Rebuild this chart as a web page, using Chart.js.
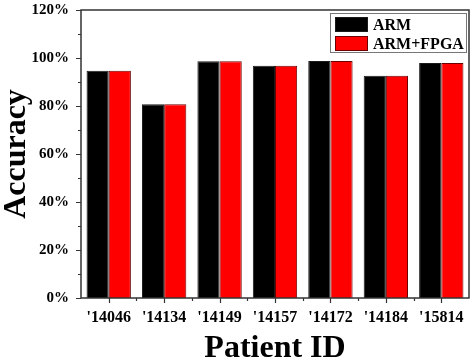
<!DOCTYPE html>
<html>
<head>
<meta charset="utf-8">
<script src="https://cdn.jsdelivr.net/npm/chart.js@4.4.1/dist/chart.umd.min.js"></script>
<style>
  html, body { margin: 0; padding: 0; background: #fff; }
  #wrap { width: 474px; height: 362px; }
</style>
</head>
<body>
<div id="wrap"><canvas id="accChart" width="474" height="362"></canvas></div>
<script>
// Data
const patientIds = ["'14046", "'14134", "'14149", "'14157", "'14172", "'14184", "'15814"];
const armAcc = [94.7, 80.7, 98.6, 96.8, 98.7, 92.6, 97.9];
const fpgaAcc = [94.7, 80.7, 98.6, 96.8, 98.7, 92.6, 97.9];
const yMin = 0, yMax = 120, yStep = 10;

const serif = "'Liberation Serif', 'Times New Roman', serif";

// frame around the plot, outward tick marks and the boxed legend
const framePlugin = {
    id: 'frame',
    afterDraw(chart) {
        const { ctx, chartArea: a, scales } = chart;
        const x = scales.x, y = scales.y;
        ctx.save();
        ctx.strokeStyle = '#333';
        ctx.lineWidth = 1.5;
        ctx.strokeRect(a.left, a.top, a.right - a.left, a.bottom - a.top);

        ctx.lineWidth = 1.2;
        ctx.beginPath();
        // y ticks, major every 20, minor every 10
        for (let v = yMin; v <= yMax; v += yStep) {
            const py = Math.round(y.getPixelForValue(v)) + 0.5;
            const len = v % 20 === 0 ? 5 : 3;
            ctx.moveTo(a.left, py);
            ctx.lineTo(a.left - len, py);
        }
        // x ticks at category centres and minor ones between
        const n = patientIds.length;
        for (let i = 0; i < n; i++) {
            const px = Math.round(x.getPixelForValue(i)) + 0.5;
            ctx.moveTo(px, a.bottom);
            ctx.lineTo(px, a.bottom + 5);
            if (i < n - 1) {
                const mx = Math.round((x.getPixelForValue(i) + x.getPixelForValue(i + 1)) / 2) + 0.5;
                ctx.moveTo(mx, a.bottom);
                ctx.lineTo(mx, a.bottom + 3);
            }
        }
        ctx.stroke();

        // legend
        const lx = 330, ly = 13, lw = 136, lh = 39;
        ctx.strokeStyle = '#777';
        ctx.lineWidth = 1;
        ctx.strokeRect(lx + 0.5, ly + 0.5, lw, lh);
        ctx.font = 'bold 16px ' + serif;
        ctx.textBaseline = 'alphabetic';
        chart.data.datasets.forEach((ds, i) => {
            const sy = 17 + i * 19;
            ctx.fillStyle = ds.backgroundColor;
            ctx.fillRect(335, sy, 33, 15);
            ctx.strokeStyle = ds.borderColor;
            ctx.strokeRect(335.5, sy + 0.5, 32, 14);
            ctx.fillStyle = '#000';
            ctx.fillText(ds.label, 373, sy + 13);
        });
        ctx.restore();
    }
};

new Chart(document.getElementById('accChart'), {
    type: 'bar',
    data: {
        labels: patientIds,
        datasets: [
            {
                label: 'ARM',
                data: armAcc,
                backgroundColor: '#000000',
                borderColor: '#1a1a1a',
                borderWidth: 1,
                categoryPercentage: 0.8,
                barPercentage: 1.0
            },
            {
                label: 'ARM+FPGA',
                data: fpgaAcc,
                backgroundColor: '#ff0000',
                borderColor: '#6a0000',
                borderWidth: 1,
                categoryPercentage: 0.8,
                barPercentage: 1.0
            }
        ]
    },
    options: {
        responsive: false,
        animation: false,
        layout: { padding: { top: 0, right: 5, left: 0, bottom: 0 } },
        plugins: {
            legend: { display: false },
            tooltip: { enabled: false }
        },
        scales: {
            x: {
                grid: { display: false },
                border: { display: false },
                ticks: {
                    color: '#000',
                    padding: 2,
                    font: { family: serif, size: 16, weight: 'bold' },
                    maxRotation: 0
                },
                title: {
                    display: true,
                    text: 'Patient ID',
                    color: '#000',
                    padding: 0,
                    font: { family: serif, size: 32, weight: 'bold', lineHeight: 0.85 }
                },
                afterFit(scale) { scale.height = 64; }
            },
            y: {
                min: yMin,
                max: yMax,
                grid: { display: false },
                border: { display: false },
                ticks: {
                    stepSize: yStep,
                    color: '#000',
                    padding: 4,
                    font: { family: serif, size: 15, weight: 'bold' },
                    callback: v => (v % 20 === 0 ? v + '%' : '')
                },
                title: {
                    display: true,
                    text: 'Accuracy',
                    color: '#000',
                    padding: { top: 2 },
                    font: { family: serif, size: 32, weight: 'bold', lineHeight: 0.9 }
                },
                afterFit(scale) {
                    scale.width = 81;
                    scale.paddingTop = 10;
                    scale.paddingBottom = 0;
                }
            }
        }
    },
    plugins: [framePlugin]
});
</script>
</body>
</html>
